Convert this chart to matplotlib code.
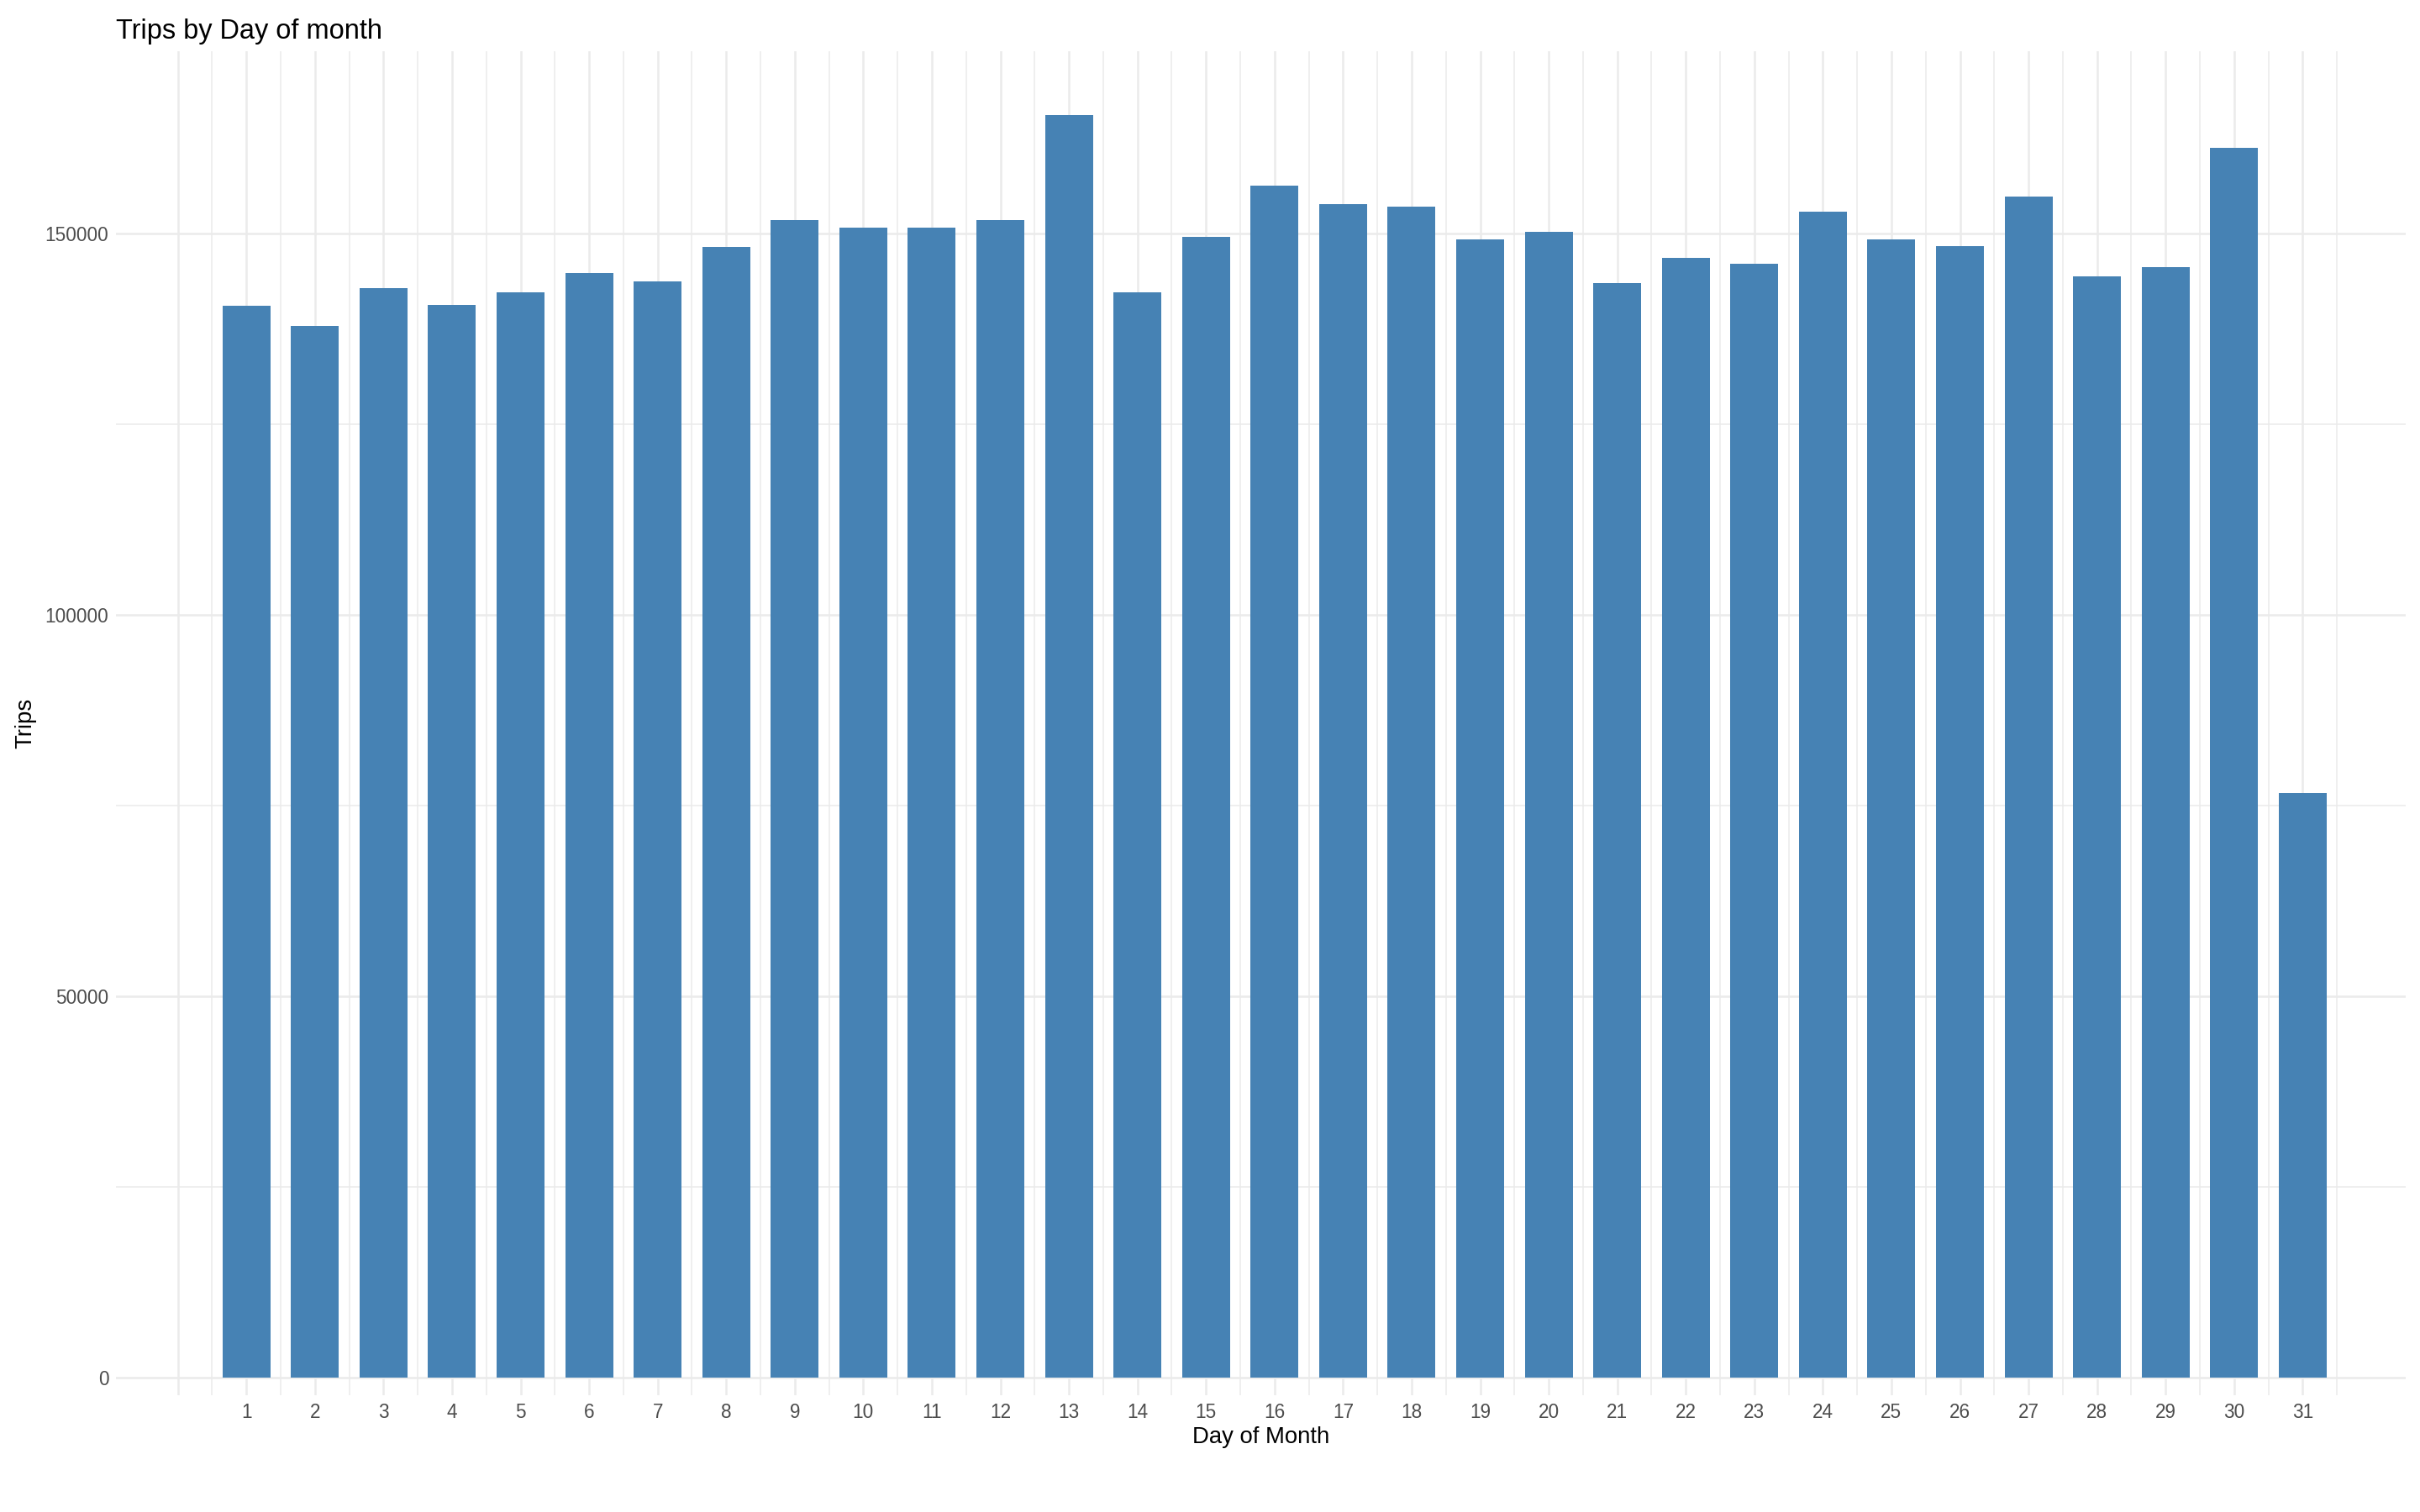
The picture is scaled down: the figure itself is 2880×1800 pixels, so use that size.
import matplotlib.pyplot as plt
import numpy as np

days = list(range(1, 32))
trips = [140500, 137900, 142900, 140700, 142300, 144800, 143700, 148200, 151800, 150800,
         150800, 151800, 165600, 142300, 149600, 156300, 153900, 153500, 149200, 150200,
         143500, 146800, 146000, 152900, 149200, 148400, 154900, 144400, 145600, 161300, 76600]

plt.rcParams['font.family'] = ['Liberation Sans', 'DejaVu Sans']
fig = plt.figure(figsize=(16, 10), dpi=180)
ax = fig.add_axes([0.048, 0.077, 0.946, 0.889])

for x in np.arange(0, 32, 0.5):
    ax.axvline(x, color='#ebebeb', lw=0.6 if x % 1 else 1.0, zorder=0)
for y in range(0, 175000, 25000):
    ax.axhline(y, color='#ebebeb', lw=1.0 if y % 50000 == 0 else 0.6, zorder=0)

ax.bar(days, trips, width=0.7, color='#4682b4', zorder=2)
ax.set_xlim(-0.9, 32.5)
ax.set_ylim(-2400, 173900)
ax.set_xticks(days)
ax.set_yticks([0, 50000, 100000, 150000])
ax.set_yticklabels(['0', '50000', '100000', '150000'])
ax.tick_params(length=0, labelsize=9, colors='#4d4d4d')
for s in ax.spines.values():
    s.set_visible(False)
ax.set_xlabel('Day of Month', fontsize=11, labelpad=2)
ax.set_ylabel('Trips', fontsize=11)
ax.set_title('Trips by Day of month', loc='left', fontsize=13)
fig.savefig('out.png')
